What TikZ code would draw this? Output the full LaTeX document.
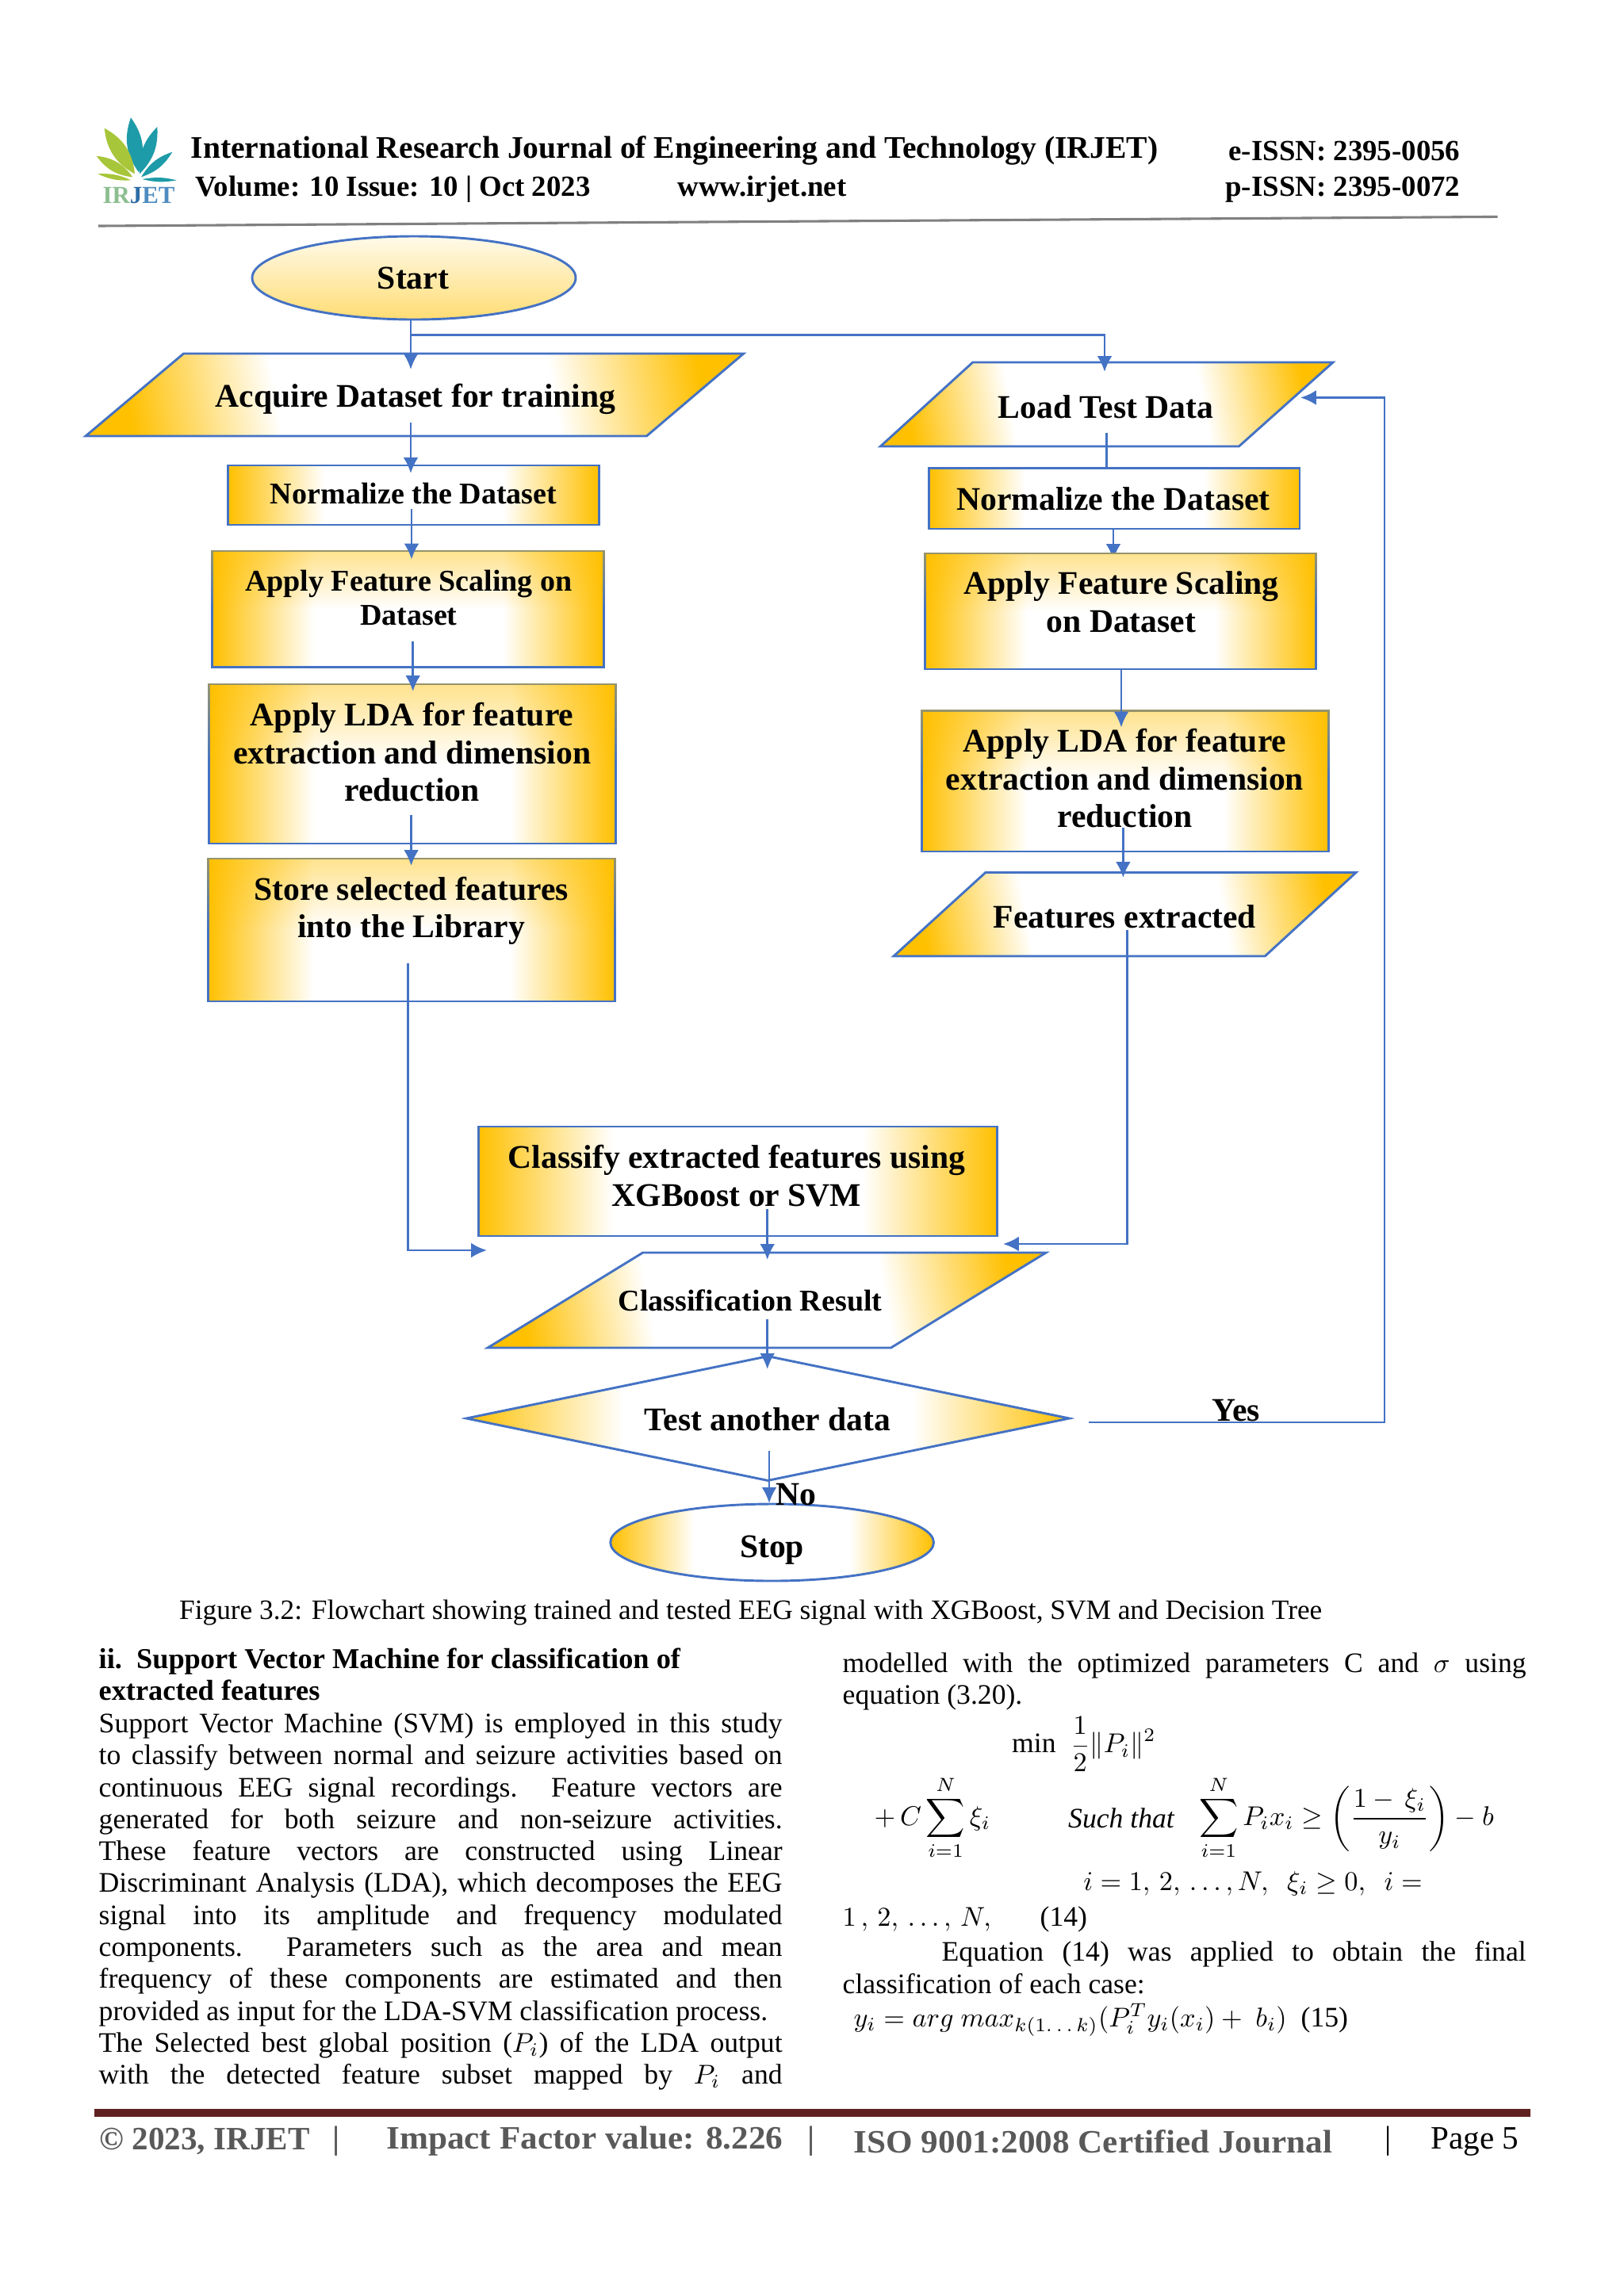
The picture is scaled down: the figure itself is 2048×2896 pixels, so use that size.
\documentclass[tikz,border=0pt]{standalone}
\usepackage{fontspec}
\usepackage{amsmath}
\setmainfont{Liberation Serif}
\newfontfamily\cambria{Liberation Serif}
\newfontfamily\cambriawide[FakeStretch=1.05]{Liberation Serif}
\usetikzlibrary{arrows.meta,shapes.geometric,fadings}
\def\h{0.01025}
\definecolor{flowblue}{HTML}{4472C4}
\definecolor{gold}{HTML}{FFC000}
\definecolor{footred}{HTML}{5F2120}
\definecolor{footgray}{HTML}{595959}
\definecolor{leafteal}{HTML}{1E9BA8}
\definecolor{leaflime}{HTML}{A8C63A}
\pgfdeclarehorizontalshading{goldbar}{100bp}{color(0bp)=(gold); color(25bp)=(gold); color(38bp)=(white); color(62bp)=(white); color(75bp)=(gold); color(100bp)=(gold)}
\tikzset{
	flow/.style={->,>={Latex[length=5.8pt,width=5.5pt]},color=flowblue,line width=0.85pt},
	goldbox/.style={rectangle,draw=flowblue,line width=0.85pt,shade,shading=goldbar,inner sep=0pt},
	paraface/.style={draw=flowblue,line width=0.85pt,shade,shading=goldbar,shading angle=10},
	flowtext/.style={align=center,inner sep=0pt,font=\fontsize{12.15}{13.85}\selectfont\bfseries},
	smalltext/.style={flowtext,font=\fontsize{11.1}{12.8}\selectfont\bfseries},
	headtext/.style={inner sep=0pt,font=\cambria\fontsize{11.55}{13}\selectfont\bfseries},
	headsmall/.style={inner sep=0pt,font=\cambria\fontsize{10.75}{13}\selectfont\bfseries},
	bodytext/.style={inner sep=0pt,anchor=north west,align=justify,font=\cambria\fontsize{10.4}{11.76}\selectfont},
	foottext/.style={inner sep=0pt,color=footgray,font=\cambria\fontsize{12}{14}\selectfont\bfseries},
	footwide/.style={foottext,font=\cambriawide\fontsize{12}{14}\selectfont\bfseries},
	footblack/.style={inner sep=0pt,font=\cambria\fontsize{12}{14}\selectfont},
	mathtext/.style={inner sep=0pt,font=\cambria\fontsize{10.4}{11.76}\selectfont},
}
% name, x0, y0, x1, y1
\def\boxnode#1#2#3#4#5{
	\node[goldbox,minimum width={(#4-#2)*\h cm},minimum height={(#5-#3)*\h cm}] (#1) at ({(#2+#4)/2},{(#3+#5)/2}) {};
}
% pale gold along the top edge of a box
\def\boxtop#1{
	\fill[color=gold,fill opacity=0.45,path fading=south] (#1.north west) rectangle (#1.east);
}
% name, top left x, top right x, bottom left x, bottom right x, top y, bottom y
\def\paranode#1#2#3#4#5#6#7{
	\path[paraface] (#2,#6) -- (#3,#6) -- (#5,#7) -- (#4,#7) -- cycle;
	\node[inner sep=0pt,minimum width={(#3-#4)*\h cm},minimum height={(#7-#6)*\h cm}] (#1) at ({(#3+#4)/2},{(#6+#7)/2}) {};
}
\def\leaf#1#2#3#4{
	\fill[color=#1] #2 to[bend left=#4] #3 to[bend left=#4] #2 -- cycle;
}
\begin{document}
\begin{tikzpicture}[x=\h cm,y=-\h cm]
\useasboundingbox (0,0) rectangle (2048,2896);
% header
\begin{scope}[shift={(110,140)},x=0.003417cm,y=-0.003417cm]
\leaf{leafteal}{(165,25)}{(195,232)}{28}
\leaf{leafteal}{(265,60)}{(198,238)}{24}
\leaf{leafteal}{(322,155)}{(204,250)}{20}
\leaf{leafteal}{(338,262)}{(208,258)}{12}
\leaf{leaflime}{(65,65)}{(180,238)}{28}
\leaf{leaflime}{(35,170)}{(172,250)}{24}
\leaf{leaflime}{(40,238)}{(166,262)}{14}
\end{scope}
\node[inner sep=0pt,font=\fontsize{9}{10}\selectfont\bfseries] (logotext) at (175,247) {\textcolor[HTML]{8CBE90}{IR}\textcolor[HTML]{2E6DA4}{J}\textcolor[HTML]{4E8CC0}{ET}};
\node[headtext,anchor=west] (title) at (240,190) {International Research Journal of Engineering and Technology (IRJET)};
\node[headsmall,anchor=east] (eissn) at (1842,190) {e-ISSN: 2395-0056};
\node[headsmall,anchor=west] (volume) at (246,239) {Volume: 10 Issue: 10 | Oct 2023};
\node[headsmall,anchor=west] (website) at (854,239) {www.irjet.net};
\node[headsmall,anchor=east] (pissn) at (1842,239) {p-ISSN: 2395-0072};
\draw[color=gray,line width=0.9pt] (124,285) -- (1888.5,273.4);
% left column
\node[ellipse,inner sep=0pt,draw=flowblue,line width=0.85pt,shade,top color=gold!8,bottom color=gold!55,minimum width={408*\h cm},minimum height={105*\h cm}] (start) at (522,350.5) {};
\node[flowtext] (starttext) at (521,351) {Start};
\paranode{acquire}{231.5}{937.7}{108}{815.4}{446}{550}
\node[flowtext] (acquiretext) at (524,503) {Acquire Dataset for training};
\boxnode{normleft}{287.8}{587}{755.4}{662}
\node[smalltext] (normlefttext) at (521.6,622) {Normalize the Dataset};
\boxnode{scaleleft}{267.9}{695}{761.8}{841.5}
\boxtop{scaleleft}
\node[smalltext] (scalelefttext) at (515.3,754) {Apply Feature Scaling on\\Dataset};
\boxnode{ldaleft}{263.6}{863}{776.8}{1064}
\boxtop{ldaleft}
\node[flowtext] (ldalefttext) at (519.6,949) {Apply LDA for feature\\extraction and dimension\\reduction};
\boxnode{store}{262.5}{1083}{775.7}{1263}
\boxtop{store}
\node[flowtext] (storetext) at (518.6,1149) {Store selected features\\into the Library};
% right column
\paranode{load}{1226.7}{1681}{1110.3}{1562.4}{457}{563}
\node[flowtext] (loadtext) at (1394.5,513) {Load Test Data};
\boxnode{normright}{1171.5}{590.5}{1639}{667}
\node[flowtext] (normrighttext) at (1404,629) {Normalize the Dataset};
\coordinate (tipscale) at (1404,706);
\draw[flow] (tipscale |- normright.south) -- (tipscale);
\boxnode{scaleright}{1166.7}{698}{1659.6}{844}
\boxtop{scaleright}
\node[flowtext] (scalerighttext) at (1414,759) {Apply Feature Scaling\\on Dataset};
\boxnode{ldaright}{1162.5}{896.5}{1675.7}{1074}
\boxtop{ldaright}
\node[flowtext] (ldarighttext) at (1418.5,982) {Apply LDA for feature\\extraction and dimension\\reduction};
\paranode{features}{1242.8}{1710}{1127}{1595.3}{1100.5}{1206}
\node[flowtext] (featurestext) at (1418.5,1156) {Features extracted};
% bottom part
\boxnode{classify}{603.2}{1421}{1257.8}{1559}
\node[flowtext] (classifytext) at (929,1483) {Classify extracted features using\\XGBoost or SVM};
\paranode{result}{810.6}{1319}{615}{1123.5}{1580}{1700}
\node[smalltext] (resulttext) at (946,1640) {Classification Result};
\node[diamond,draw=flowblue,line width=0.85pt,shade,shading=goldbar,inner sep=0pt,minimum width={761.4*\h cm},minimum height={158*\h cm},aspect=4.82] (test) at (968.3,1789) {};
\node[flowtext] (testtext) at (968,1790) {Test another data};
\node[goldbox,ellipse,minimum width={407.7*\h cm},minimum height={97*\h cm}] (stop) at (973.6,1945.5) {};
\node[flowtext] (stoptext) at (973.6,1955) {Stop};
% connectors
\coordinate (fork) at (518,422.5);
\coordinate (tipacquire) at (518,466);
\coordinate (tipload) at (1393,469);
\draw[flow] (tipacquire |- start.south) -- (tipacquire);
\draw[flow] (fork) -| (tipload);
\coordinate (acquireout) at (518,533);
\coordinate (tipnormleft) at (518,597);
\draw[flow] (acquireout) -- (tipnormleft);
\coordinate (normout) at (519,642);
\coordinate (tipscaleleft) at (519,705.6);
\draw[flow] (normout) -- (tipscaleleft);
\coordinate (scaleout) at (520.7,809.4);
\coordinate (tipldaleft) at (520.7,872);
\draw[flow] (scaleout) -- (tipldaleft);
\coordinate (ldaout) at (518.6,1028);
\coordinate (tipstore) at (518.6,1092);
\draw[flow] (ldaout) -- (tipstore);
\coordinate (storeout) at (514.3,1215);
\coordinate (tipclassleft) at (614,1577);
\draw[flow] (storeout) |- (tipclassleft);
\coordinate (loadout) at (1395.7,546);
\draw[color=flowblue,line width=0.85pt] (loadout) -- (loadout |- normright.north);
\coordinate (tipldaright) at (1414,917.5);
\draw[flow] (tipldaright |- scaleright.south) -- (tipldaright);
\coordinate (ldarightout) at (1416.4,1044);
\coordinate (tipfeatures) at (1416.4,1107);
\draw[flow] (ldarightout) -- (tipfeatures);
\coordinate (featuresout) at (1421.7,1172.6);
\coordinate (tipclassright) at (1265,1569);
\draw[flow] (featuresout) |- (tipclassright);
\coordinate (classifyout) at (967.7,1525);
\coordinate (tipresult) at (967.7,1589);
\draw[flow] (classifyout) -- (tipresult);
\coordinate (resultout) at (967.7,1664);
\coordinate (tiptest) at (967.7,1727);
\draw[flow] (resultout) -- (tiptest);
\coordinate (testout) at (970,1830);
\coordinate (tipstop) at (970,1896);
\draw[flow] (testout) -- (tipstop);
\coordinate (yesout) at (1373,1794);
\coordinate (yescorner) at (1746,1794);
\coordinate (tipback) at (1640,501.5);
\draw[flow] (yesout) -- (yescorner) |- (tipback);
\node[flowtext] (yes) at (1558.8,1779) {Yes};
\node[flowtext] (no) at (1003.6,1885) {No};
% caption
\node[mathtext,anchor=west,font=\cambria\fontsize{10.3}{11.76}\selectfont] (caption) at (225.5,2034) {Figure 3.2: Flowchart showing trained and tested EEG signal with XGBoost, SVM and Decision Tree};
% left text column
\node[bodytext,text width={862*\h cm},font=\cambria\fontsize{10.6}{11.76}\selectfont\bfseries] (heading) at (124,2078) {ii.\ \ Support Vector Machine for classification of\par extracted features};
\node[bodytext,text width={862*\h cm}] (leftcol) at (124,2160) {Support Vector Machine (SVM) is employed in this study\linebreak to classify between normal and seizure activities based on\linebreak continuous EEG signal recordings. Feature vectors are\linebreak generated for both seizure and non-seizure activities.\linebreak These feature vectors are constructed using Linear\linebreak Discriminant Analysis (LDA), which decomposes the EEG\linebreak signal into its amplitude and frequency modulated\linebreak components. Parameters such as the area and mean\linebreak frequency of these components are estimated and then\linebreak provided as input for the LDA-SVM classification process.\par The Selected best global position ($P_i$) of the LDA output\linebreak with the detected feature subset mapped by $P_i$ and\parfillskip=0pt\par};
% right text column
\node[bodytext,text width={862*\h cm}] (rightcol) at (1062,2084) {modelled with the optimized parameters C and $\sigma$ using\linebreak equation (3.20).};
\node[mathtext] (minline) at (1367,2200) {min\enspace$\displaystyle\frac{1}{2}\|P_i\|^2$};
\node[mathtext] (sumleft) at (1176,2293) {$\displaystyle +\,C\sum_{i=1}^{N}\xi_i$};
\node[mathtext] (suchthat) at (1414,2293) {\itshape Such that};
\node[mathtext] (sumright) at (1698,2293) {$\displaystyle\sum_{i=1}^{N}P_ix_i\ge\left(\frac{1-\,\xi_i}{y_i}\right)-b$};
\node[mathtext] (rangeline) at (1580,2376) {$i=1,\,2,\,.\,.\,.\,,N,\ \ \xi_i\ge 0,\ \ i=$};
\node[mathtext,anchor=west] (rangetwo) at (1062,2421) {$1\,,\,2,\,.\,.\,.\,,\,N,$};
\node[mathtext,anchor=west] (eqfourteen) at (1311,2421) {(14)};
\node[bodytext,text width={862*\h cm}] (eqtext) at (1062,2448) {\hspace*{1.28cm}Equation (14) was applied to obtain the final\linebreak classification of each case:};
\node[mathtext,anchor=west] (eqfifteen) at (1076,2548) {$y_i=arg\ max_{k(1.\,.\,.\,k)}(P_i^Ty_i(x_i)+\ b_i)$\ \ (15)};
% footer
\draw[color=footred,line width=2.9pt] (119,2665) -- (1929.7,2665);
\node[foottext,anchor=west] (footcopy) at (125,2701) {© 2023, IRJET};
\node[foottext,anchor=center] (footbarone) at (423.7,2701) {|};
\node[footwide,anchor=west] (footimpact) at (486.7,2701) {Impact Factor value: 8.226};
\node[foottext,anchor=center] (footbartwo) at (1023,2701) {|};
\node[footwide,anchor=west] (footiso) at (1076,2701) {ISO 9001:2008 Certified Journal};
\node[footblack,anchor=center] (footbarthree) at (1751,2701) {|};
\node[footblack,anchor=west] (footpage) at (1804,2701) {Page 5};
\end{tikzpicture}
\end{document}
